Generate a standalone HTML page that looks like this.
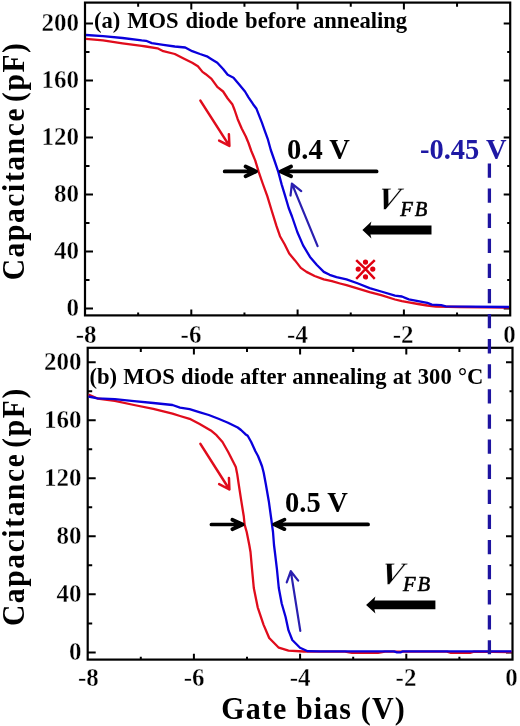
<!DOCTYPE html>
<html><head><meta charset="utf-8"><title>MOS diode C-V</title><style>
html,body{margin:0;padding:0;background:#fff;}
body{width:520px;height:726px;overflow:hidden;}
svg{display:block;}
text{font-family:'Liberation Serif', 'Times New Roman', serif;font-weight:bold;fill:#000;}
.tl{font-size:25px;stroke:#fff;stroke-width:0.35px;}
.ti{font-size:22.6px;letter-spacing:0px;}
.yl{font-size:31px;letter-spacing:1.75px;word-spacing:-4.5px;}
.xl{font-size:32.3px;letter-spacing:1.2px;}
.lb{font-size:28.5px;}
.vf{font-size:31.5px;stroke:#fff;stroke-width:0.3px;}
.vs{font-size:20.5px;letter-spacing:2px;font-style:italic;font-weight:normal;stroke:#000;stroke-width:0.6px;}
.rm{font-family:'Noto Sans CJK JP','Noto Sans CJK SC',sans-serif;font-size:25.5px;fill:#e00010;stroke:#e00010;stroke-width:1.4px;font-weight:bold;}
</style></head>
<body>
<svg width="520" height="726" viewBox="0 0 520 726">
<rect width="520" height="726" fill="#fff"/>
<rect x="85" y="2.6" width="425.2" height="312.8" fill="none" stroke="#000" stroke-width="2.2"/>
<path d="M138.15 315.4v-2.8 M138.15 2.6v4.2 M191.3 315.4v-5.8 M191.3 2.6v6.8 M244.45 315.4v-2.8 M244.45 2.6v4.2 M297.6 315.4v-5.8 M297.6 2.6v6.8 M350.75 315.4v-2.8 M350.75 2.6v4.2 M403.9 315.4v-5.8 M403.9 2.6v6.8 M457.05 315.4v-2.8 M457.05 2.6v4.2 M85 308.5h8.0 M510.2 308.5h-6.5 M85 280.01h4.5 M510.2 280.01h-3.0 M85 251.52h8.0 M510.2 251.52h-6.5 M85 223.03h4.5 M510.2 223.03h-3.0 M85 194.54h8.0 M510.2 194.54h-6.5 M85 166.05h4.5 M510.2 166.05h-3.0 M85 137.56h8.0 M510.2 137.56h-6.5 M85 109.07h4.5 M510.2 109.07h-3.0 M85 80.58h8.0 M510.2 80.58h-6.5 M85 52.09h4.5 M510.2 52.09h-3.0 M85 23.6h8.0 M510.2 23.6h-6.5" stroke="#000" stroke-width="2" fill="none"/>
<text x="78.9" y="316.1" text-anchor="end" class="tl">0</text>
<text x="78.9" y="259.12" text-anchor="end" class="tl">40</text>
<text x="78.9" y="202.14" text-anchor="end" class="tl">80</text>
<text x="78.9" y="145.16" text-anchor="end" class="tl">120</text>
<text x="78.9" y="88.18" text-anchor="end" class="tl">160</text>
<text x="78.9" y="31.2" text-anchor="end" class="tl">200</text>
<rect x="87.7" y="347.8" width="424.8" height="311.8" fill="none" stroke="#000" stroke-width="2.2"/>
<path d="M140.8 659.6v-2.8 M140.8 347.8v4.2 M193.9 659.6v-5.8 M193.9 347.8v6.8 M247 659.6v-2.8 M247 347.8v4.2 M300.1 659.6v-5.8 M300.1 347.8v6.8 M353.2 659.6v-2.8 M353.2 347.8v4.2 M406.3 659.6v-5.8 M406.3 347.8v6.8 M459.4 659.6v-2.8 M459.4 347.8v4.2 M87.7 652.4h8.0 M512.5 652.4h-6.5 M87.7 623.38h4.5 M512.5 623.38h-3.0 M87.7 594.36h8.0 M512.5 594.36h-6.5 M87.7 565.34h4.5 M512.5 565.34h-3.0 M87.7 536.32h8.0 M512.5 536.32h-6.5 M87.7 507.3h4.5 M512.5 507.3h-3.0 M87.7 478.28h8.0 M512.5 478.28h-6.5 M87.7 449.26h4.5 M512.5 449.26h-3.0 M87.7 420.24h8.0 M512.5 420.24h-6.5 M87.7 391.22h4.5 M512.5 391.22h-3.0 M87.7 362.2h8.0 M512.5 362.2h-6.5" stroke="#000" stroke-width="2" fill="none"/>
<text x="81.6" y="660" text-anchor="end" class="tl">0</text>
<text x="81.6" y="601.96" text-anchor="end" class="tl">40</text>
<text x="81.6" y="543.92" text-anchor="end" class="tl">80</text>
<text x="81.6" y="485.88" text-anchor="end" class="tl">120</text>
<text x="81.6" y="427.84" text-anchor="end" class="tl">160</text>
<text x="81.6" y="369.8" text-anchor="end" class="tl">200</text>
<text x="86.2" y="343.1" text-anchor="middle" class="tl">-8</text>
<text x="191" y="343.1" text-anchor="middle" class="tl">-6</text>
<text x="297.5" y="343.1" text-anchor="middle" class="tl">-4</text>
<text x="403.2" y="343.1" text-anchor="middle" class="tl">-2</text>
<text x="509.4" y="343.1" text-anchor="middle" class="tl">0</text>
<text x="88.4" y="686.4" text-anchor="middle" class="tl">-8</text>
<text x="194.2" y="686.4" text-anchor="middle" class="tl">-6</text>
<text x="300.1" y="686.4" text-anchor="middle" class="tl">-4</text>
<text x="406" y="686.4" text-anchor="middle" class="tl">-2</text>
<text x="511.4" y="686.4" text-anchor="middle" class="tl">0</text>
<polyline points="86,38.8 103,40.4 122.5,43.3 141.7,45.8 146,46.5 157.5,48.3 163.3,51.2 174.8,54 184.1,58.7 192.2,62.7 197.9,66.2 202.5,71.9 205.8,74.2 211.5,78.8 217.3,86.9 223.1,91.5 227.7,98.5 232.3,104.2 234.6,110 237.7,119.2 241.7,128.5 245.8,136.5 248.5,143 251.3,151 255.2,160.4 258.7,171.9 262.7,183.5 267.3,196.2 271.5,210 276.5,226.2 280,236.2 284.6,244.2 289.2,253.5 295,260.4 300.8,267.9 306.5,271.9 314.6,276 323.8,279.4 331.9,281.2 340,283.5 346.5,285.2 358.1,288.7 369.6,292.1 381.2,295.2 395,299.5 401.9,301.2 408.8,302.3 418.1,304 427.3,305.5 436,306.5 460,307 509,307.6" fill="none" stroke="#e00c1c" stroke-width="2.3" stroke-linejoin="round" stroke-linecap="butt"/>
<polyline points="86,35 103,36.2 122.5,38 141.7,40.4 146,40.8 151.8,43.1 163.3,44.8 174.8,46.5 185.2,47.5 192.2,51.2 200,54 206.9,56.3 211.5,59.2 217.3,62.7 223.1,69 227.7,74.8 233.5,77.7 239.2,84.6 245,91.5 248.5,97.3 253.1,104.2 256.5,108.8 261.9,122.7 264.8,130.8 267.7,138.8 270.8,150 274.8,161.5 278.3,171.9 281.7,184.6 285.2,196.2 288.7,208 292,216.5 297.3,232 303.1,245.4 310,256.9 316.9,265 323.8,271.9 329.6,274.8 336.5,277.1 346.5,279.4 358.1,283.5 369.6,288.1 381.2,291.5 395,295.6 401.9,296.5 408.8,299.4 418.1,301.2 427.3,302.9 431.9,304.6 441.2,305.2 445.8,306.3 470,306.6 509,307" fill="none" stroke="#0a00dc" stroke-width="2.3" stroke-linejoin="round" stroke-linecap="butt"/>
<polyline points="88.5,394.5 97.5,398.5 114.8,400.8 134,405 153.3,408.8 172.5,413.7 180,416 189.6,418.8 199.2,423.7 210.8,430.4 216.5,435.2 222.5,442 228.2,452 232.9,461.2 235.8,467 237.3,474.6 238.7,484.2 241,499.2 243.8,516.5 244.6,524.6 246.7,532 249.3,545 250.5,552 252,568.8 253.8,588 257.7,607.3 263.5,624.6 269.2,638 278.8,647.7 288.5,650.6 303.8,651.5 345,651.6 352,652.9 378,652.9 385,651.6 447,651.6 451,652.9 470,652.9 474,651.6 511.5,652" fill="none" stroke="#e00c1c" stroke-width="2.3" stroke-linejoin="round" stroke-linecap="butt"/>
<polyline points="88.5,396.5 97.5,398.3 114.8,399.2 134,401.2 153.3,403 172.5,405 180,407.7 189.6,409.2 199.2,412.1 208.8,415 218.5,418.8 228,422.7 237.7,427.5 241,430 245.4,434.2 247.7,435.8 251.2,442 255.4,451.2 258,456 260.8,463 262.1,466.5 263.7,472.7 265.8,484 268.8,501.2 271.2,518.5 272,524.6 273,532 274,545 275,553 276.9,568.8 278.8,588 281.7,603.5 285.6,617 288.5,630.4 292.3,640 300,647.7 307.7,651.2 320,651.3 394,651.3 397,652.4 400.5,652.4 403,651.3 511.5,651.3" fill="none" stroke="#0a00dc" stroke-width="2.3" stroke-linejoin="round" stroke-linecap="butt"/>
<line x1="489.4" y1="163.4" x2="489.4" y2="654.3" stroke="#1e14a0" stroke-width="3.3" stroke-dasharray="14.3 10.8"/>
<text transform="translate(94,27.7)" class="ti" style="word-spacing:1.2px">(a) MOS diode before annealing</text>
<text transform="translate(89.5,384.1)" class="ti" style="word-spacing:0.6px">(b) MOS diode after annealing at 300 °C</text>
<text transform="translate(23.5,160.9) rotate(-90) scale(0.95,1)" text-anchor="middle" class="yl">Capacitance (pF)</text>
<text transform="translate(23.5,506.6) rotate(-90) scale(0.95,1)" text-anchor="middle" class="yl">Capacitance (pF)</text>
<text transform="translate(313.5,718.8) scale(0.93,1)" text-anchor="middle" class="xl">Gate bias (V)</text>
<path d="M200.4 100.6L229.4 145.9M219.12 140.61L229.4 145.9L228.89 134.35" fill="none" stroke="#e00c1c" stroke-width="2.5" stroke-linecap="round" stroke-linejoin="round"/>
<path d="M200.4 443.8L229.4 489.5M219.14 484.16L229.4 489.5L228.94 477.95" fill="none" stroke="#e00c1c" stroke-width="2.5" stroke-linecap="round" stroke-linejoin="round"/>
<path d="M317.6 246.2L291.9 183.6M301.25 191.11L291.9 183.6L290.52 195.52" fill="none" stroke="#2a1fb0" stroke-width="2.2" stroke-linecap="round" stroke-linejoin="round"/>
<path d="M300.3 630.8L290.8 571.2M298.18 580.66L290.8 571.2L286.73 582.48" fill="none" stroke="#2a1fb0" stroke-width="2.2" stroke-linecap="round" stroke-linejoin="round"/>
<path d="M224.7 171.4L256 171.4M245.6 176.2L256 171.4L245.6 166.6" fill="none" stroke="#000" stroke-width="3.8" stroke-linecap="round" stroke-linejoin="round"/>
<path d="M376.6 171.4L280.7 171.4M291.1 166.6L280.7 171.4L291.1 176.2" fill="none" stroke="#000" stroke-width="3.8" stroke-linecap="round" stroke-linejoin="round"/>
<path d="M211.4 524.5L242.7 524.5M232.3 529.3L242.7 524.5L232.3 519.7" fill="none" stroke="#000" stroke-width="3.7" stroke-linecap="round" stroke-linejoin="round"/>
<path d="M368.1 524.4L274.1 524.4M284.5 519.6L274.1 524.4L284.5 529.2" fill="none" stroke="#000" stroke-width="3.7" stroke-linecap="round" stroke-linejoin="round"/>
<text x="287" y="158.8" class="lb">0.4 V</text>
<text x="285" y="511.9" class="lb">0.5 V</text>
<text x="420" y="158.8" class="lb" style="fill:#1e18a4">-0.45 V</text>
<g transform="translate(373.5,209) skewX(-22)"><text x="0" y="0" class="vf">V</text></g><text x="400.3" y="216.3" class="vs">FB</text>
<g transform="translate(377,584) skewX(-22)"><text x="0" y="0" class="vf">V</text></g><text x="402.9" y="591.2" class="vs">FB</text>
<path d="M362.4 229.9L371.4 221.4L370.4 225.4L431.5 225.4L431.5 234.4L370.4 234.4L371.4 238.4Z" fill="#000"/>
<path d="M366.1 604.9L375.4 596.4L374.4 600.6L435.4 600.6L435.4 609.2L374.4 609.2L375.4 613.4Z" fill="#000"/>
<text x="365.5" y="279.3" text-anchor="middle" class="rm">※</text>
</svg>
</body></html>
